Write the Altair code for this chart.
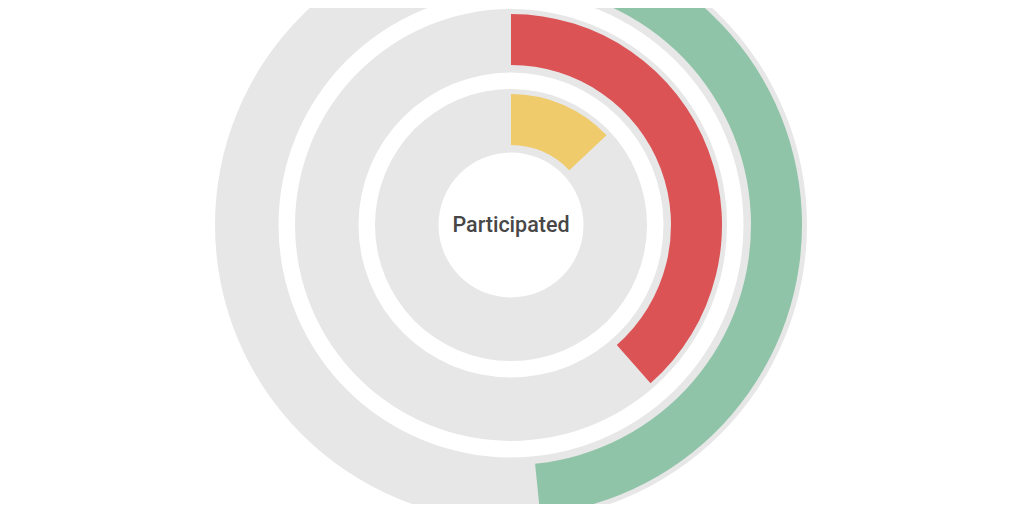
import altair as alt
import pandas as pd

# Data
rings = [1, 2, 3]                      # inner -> outer ring
values = [13.0, 38.5, 48.4]            # percent of the full circle
bar_colors = ["#F0CB6B", "#DC5356", "#8FC4A8"]
center_label = ["Participated"]

df = pd.DataFrame({"ring": rings, "value": values, "color": bar_colors})
lbl = pd.DataFrame({"label": center_label})

CX, CY = 503, 217
theta_scale = alt.Scale(domain=[0, 100], range=[0, 6.283185307179586])
r_scale = alt.Scale(type="linear", domain=[0, 3], range=[0, 240], zero=True)

base = alt.Chart(df).transform_calculate(
    zero="0",
    full="100",
    gin="datum.ring - 7.5/80",
    gout="datum.ring + 56/80",
    cin="datum.ring",
    cout="datum.ring + 51/80",
)

bg = base.mark_arc(color="#E7E7E7").encode(
    theta=alt.Theta("zero:Q", scale=theta_scale, stack=None),
    theta2="full:Q",
    radius=alt.Radius("gin:Q", scale=r_scale),
    radius2="gout:Q",
    x=alt.value(CX),
    y=alt.value(CY),
)

bars = base.mark_arc().encode(
    theta=alt.Theta("zero:Q", scale=theta_scale, stack=None),
    theta2="value:Q",
    radius=alt.Radius("cin:Q", scale=r_scale),
    radius2="cout:Q",
    color=alt.Color("color:N", scale=None, legend=None),
    x=alt.value(CX),
    y=alt.value(CY),
)

text = alt.Chart(lbl).mark_text(
    font="Roboto", fontSize=21.5, fontWeight=500, color="#474747",
    align="center", baseline="middle",
).encode(text="label:N", x=alt.value(CX), y=alt.value(CY + 1))

chart = alt.layer(bg, bars, text).properties(
    width=1008, height=496,
    autosize=alt.AutoSizeParams(type="none"),
    padding=0,
).configure_view(stroke=None)

chart.save("out.html", embed_options={"renderer": "svg", "actions": False})
